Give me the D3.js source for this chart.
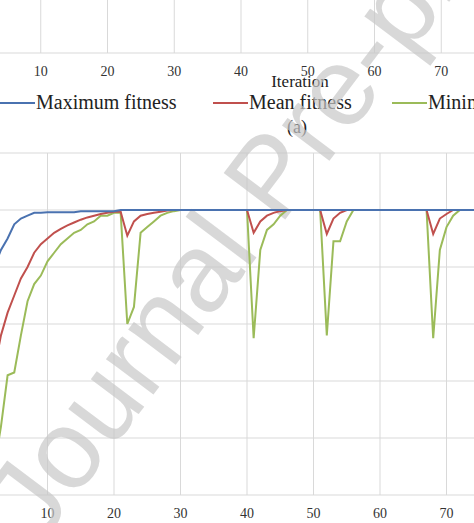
<!DOCTYPE html>
<html>
<head>
<meta charset="utf-8">
<script src="https://cdn.jsdelivr.net/npm/d3@7"></script>
<style>
  body { margin: 0; background: #fff; }
  svg { display: block; }
</style>
</head>
<body>
<svg id="chart" width="474" height="523"></svg>
<script>
// ---- data ----
var iterations = d3.range(1, 76);

var maxFitness = [0.85, 0.90, 0.93, 0.95, 0.975, 0.985, 0.99, 0.995, 0.995, 0.996,
    0.996, 0.996, 0.996, 0.996, 0.998, 0.998, 0.998, 0.998, 0.998, 0.998,
    1, 1, 1, 1, 1, 1, 1, 1, 1, 1, 1, 1, 1, 1, 1, 1, 1, 1, 1, 1,
    1, 1, 1, 1, 1, 1, 1, 1, 1, 1, 1, 1, 1, 1, 1, 1, 1, 1, 1, 1,
    1, 1, 1, 1, 1, 1, 1, 1, 1, 1, 1, 1, 1, 1, 1];

var meanFitness = [0.65, 0.72, 0.78, 0.82, 0.85, 0.88, 0.90, 0.925, 0.94, 0.95,
    0.96, 0.967, 0.973, 0.978, 0.983, 0.987, 0.99, 0.993, 0.995, 0.997,
    0.997, 0.955, 0.98, 0.99, 0.993, 0.995, 0.997, 0.999, 1, 1,
    1, 1, 1, 1, 1, 1, 1, 1, 1, 1,
    0.96, 0.98, 0.99, 0.995, 0.998, 1, 1, 1, 1, 1,
    1, 0.958, 0.985, 0.995, 1, 1, 1, 1, 1, 1,
    1, 1, 1, 1, 1, 1, 1, 0.958, 0.985, 0.993,
    1, 1, 1, 1, 1];

var minFitness = [0.50, 0.55, 0.62, 0.71, 0.715, 0.78, 0.84, 0.87, 0.885, 0.91,
    0.925, 0.94, 0.95, 0.96, 0.965, 0.975, 0.98, 0.99, 0.99, 0.995,
    0.995, 0.80, 0.83, 0.96, 0.97, 0.98, 0.99, 0.995, 0.998, 1,
    1, 1, 1, 1, 1, 1, 1, 1, 1, 1,
    0.775, 0.93, 0.965, 0.975, 0.99, 1, 1, 1, 1, 1,
    1, 0.78, 0.945, 0.945, 0.98, 1, 1, 1, 1, 1,
    1, 1, 1, 1, 1, 1, 1, 0.775, 0.93, 0.97,
    0.99, 1, 1, 1, 1];

var xTicks = [10, 20, 30, 40, 50, 60, 70];
var yTicks = [0.5, 0.6, 0.7, 0.8, 0.9, 1.0, 1.1];

var seriesNames = ["Maximum fitness", "Mean fitness", "Minimum fitness"];
var seriesColors = ["#4a72b0", "#c0504d", "#9bbb59"];

// ==================================

var svg = d3.select("#chart");
var serif = "'Liberation Serif', 'DejaVu Serif', serif";

// top panel (only its lower part is visible)
var xTop = d3.scaleLinear().domain([0, 80]).range([-26, 508]);

svg.append("g").selectAll("line")
    .data(xTicks)
    .enter()
    .append("line")
    .attr("x1", function(d) { return xTop(d); })
    .attr("x2", function(d) { return xTop(d); })
    .attr("y1", 0)
    .attr("y2", 53)
    .attr("stroke", "#d9d9d9");

svg.append("line")
    .attr("x1", 0).attr("x2", 474)
    .attr("y1", 53).attr("y2", 53)
    .attr("stroke", "#d9d9d9");

svg.append("g").selectAll("text")
    .data(xTicks)
    .enter()
    .append("text")
    .attr("x", function(d) { return xTop(d); })
    .attr("y", 76)
    .attr("text-anchor", "middle")
    .attr("font-family", serif)
    .attr("font-size", 14)
    .attr("fill", "#333")
    .text(function(d) { return d; });

svg.append("text")
    .attr("x", 300).attr("y", 87)
    .attr("text-anchor", "middle")
    .attr("font-family", serif)
    .attr("font-size", 17)
    .attr("fill", "#222")
    .text("Iteration");

// legend
var legendX = [0, 213, 392];
var legend = svg.append("g").selectAll("g")
    .data(seriesNames)
    .enter()
    .append("g")
    .attr("transform", function(d, i) { return "translate(" + legendX[i] + ",103)"; });

legend.append("line")
    .attr("x1", 0)
    .attr("x2", 35)
    .attr("stroke", function(d, i) { return seriesColors[i]; })
    .attr("stroke-width", 2);

legend.append("text")
    .attr("x", 36)
    .attr("y", 6)
    .attr("font-family", serif)
    .attr("font-size", 20)
    .attr("fill", "#222")
    .text(function(d) { return d; });

svg.append("text")
    .attr("x", 297).attr("y", 133)
    .attr("text-anchor", "middle")
    .attr("font-family", serif)
    .attr("font-size", 18)
    .attr("fill", "#222")
    .text("(a)");

// bottom panel
var x = d3.scaleLinear().domain([0, 80]).range([-19, 513]);
var y = d3.scaleLinear().domain([0.5, 1.1]).range([495, 153]);

var grid = svg.append("g");
grid.selectAll(".v")
    .data(xTicks)
    .enter()
    .append("line")
    .attr("x1", function(d) { return x(d); })
    .attr("x2", function(d) { return x(d); })
    .attr("y1", 153)
    .attr("y2", 495)
    .attr("stroke", "#d9d9d9");

grid.selectAll(".h")
    .data(yTicks)
    .enter()
    .append("line")
    .attr("x1", 0)
    .attr("x2", 474)
    .attr("y1", function(d) { return y(d); })
    .attr("y2", function(d) { return y(d); })
    .attr("stroke", "#d9d9d9");

svg.append("g").selectAll("text")
    .data(xTicks)
    .enter()
    .append("text")
    .attr("x", function(d) { return x(d); })
    .attr("y", 518)
    .attr("text-anchor", "middle")
    .attr("font-family", serif)
    .attr("font-size", 14)
    .attr("fill", "#333")
    .text(function(d) { return d; });

// watermark
svg.append("text")
    .attr("transform", "translate(40,545) rotate(-53)")
    .attr("font-family", "'Liberation Sans', Arial, sans-serif")
    .attr("font-size", 112)
    .attr("fill", "#c8c8c8")
    .attr("fill-opacity", 0.7)
    .text("Journal Pre-proof");

var line = d3.line()
    .x(function(d, i) { return x(iterations[i]); })
    .y(function(d) { return y(d); });

var allSeries = [maxFitness, meanFitness, minFitness];
svg.append("g").selectAll("path")
    .data(allSeries.slice().reverse())
    .enter()
    .append("path")
    .attr("d", line)
    .attr("fill", "none")
    .attr("stroke", function(d, i) { return seriesColors[2 - i]; })
    .attr("stroke-width", 2);
</script>
</body>
</html>
